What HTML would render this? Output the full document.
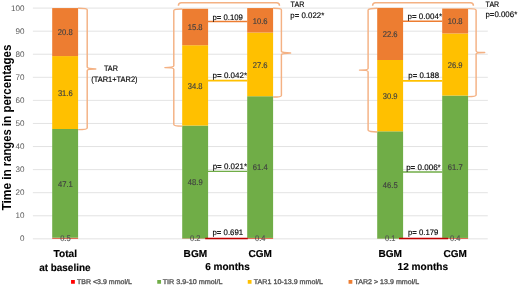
<!DOCTYPE html>
<html lang="en"><head><meta charset="utf-8"><title>Time in ranges</title>
<style>
html,body{margin:0;padding:0;background:#fff;}
body{width:520px;height:287px;overflow:hidden;}
svg{display:block;}
text{font-family:"Liberation Sans",sans-serif;}
.tick text{font-size:8.1px;}
.val text{font-size:8.3px;stroke:#404040;stroke-width:0.15px;}
.p,.p text{font-size:8.0px;fill:#000;stroke:#000;stroke-width:0.14px;}
.cat text{font-size:10.1px;font-weight:bold;fill:#000;stroke:#000;stroke-width:0.15px;}
.ytitle{font-size:11.9px;font-weight:bold;fill:#000;}
.leg text{font-size:6.8px;font-weight:normal;stroke:#595959;stroke-width:0.35px;}
</style></head><body>
<svg width="520" height="287" viewBox="0 0 520 287">
<rect width="520" height="287" fill="#fff"/>
<g stroke="#D9D9D9" stroke-width="0.75">
<line x1="32.9" x2="487.8" y1="238.85" y2="238.85"/>
<line x1="32.9" x2="487.8" y1="215.77" y2="215.77"/>
<line x1="32.9" x2="487.8" y1="192.70" y2="192.70"/>
<line x1="32.9" x2="487.8" y1="169.62" y2="169.62"/>
<line x1="32.9" x2="487.8" y1="146.54" y2="146.54"/>
<line x1="32.9" x2="487.8" y1="123.46" y2="123.46"/>
<line x1="32.9" x2="487.8" y1="100.39" y2="100.39"/>
<line x1="32.9" x2="487.8" y1="77.31" y2="77.31"/>
<line x1="32.9" x2="487.8" y1="54.23" y2="54.23"/>
<line x1="32.9" x2="487.8" y1="31.16" y2="31.16"/>
<line x1="32.9" x2="487.8" y1="8.08" y2="8.08"/>
</g>
<g class="tick" fill="#595959" text-anchor="end" transform="skewX(0.05)">
<text x="24.4" y="241.45">0</text>
<text x="24.4" y="218.37">10</text>
<text x="24.4" y="195.30">20</text>
<text x="24.4" y="172.22">30</text>
<text x="24.4" y="149.14">40</text>
<text x="24.4" y="126.06">50</text>
<text x="24.4" y="102.99">60</text>
<text x="24.4" y="79.91">70</text>
<text x="24.4" y="56.83">80</text>
<text x="24.4" y="33.76">90</text>
<text x="24.4" y="10.68">100</text>
</g>
<rect x="52.2" y="237.70" width="25.9" height="1.15" fill="#DD5A3C"/>
<rect x="52.2" y="129.00" width="25.9" height="108.69" fill="#70AD47"/>
<rect x="52.2" y="56.08" width="25.9" height="72.92" fill="#FFC000"/>
<rect x="52.2" y="8.08" width="25.9" height="48.00" fill="#ED7D31"/>
<rect x="182.2" y="238.39" width="25.9" height="0.46" fill="#DD5A3C"/>
<rect x="182.2" y="125.54" width="25.9" height="112.85" fill="#70AD47"/>
<rect x="182.2" y="45.23" width="25.9" height="80.31" fill="#FFC000"/>
<rect x="182.2" y="8.77" width="25.9" height="36.46" fill="#ED7D31"/>
<rect x="247.2" y="237.93" width="25.9" height="0.92" fill="#DD5A3C"/>
<rect x="247.2" y="96.23" width="25.9" height="141.69" fill="#70AD47"/>
<rect x="247.2" y="32.54" width="25.9" height="63.69" fill="#FFC000"/>
<rect x="247.2" y="8.08" width="25.9" height="24.46" fill="#ED7D31"/>
<rect x="377.2" y="238.62" width="25.9" height="0.23" fill="#DD5A3C"/>
<rect x="377.2" y="131.31" width="25.9" height="107.31" fill="#70AD47"/>
<rect x="377.2" y="60.00" width="25.9" height="71.31" fill="#FFC000"/>
<rect x="377.2" y="7.85" width="25.9" height="52.15" fill="#ED7D31"/>
<rect x="442.2" y="237.93" width="25.9" height="0.92" fill="#DD5A3C"/>
<rect x="442.2" y="95.54" width="25.9" height="142.39" fill="#70AD47"/>
<rect x="442.2" y="33.46" width="25.9" height="62.08" fill="#FFC000"/>
<rect x="442.2" y="8.54" width="25.9" height="24.92" fill="#ED7D31"/>
<g class="val" fill="#404040" text-anchor="middle" transform="skewX(0.05)">
<text x="65.2" y="241.25" fill="#595959" textLength="10.4" lengthAdjust="spacingAndGlyphs">0.5</text>
<text x="65.2" y="186.60" textLength="14.8" lengthAdjust="spacingAndGlyphs">47.1</text>
<text x="65.2" y="95.79" textLength="14.8" lengthAdjust="spacingAndGlyphs">31.6</text>
<text x="65.2" y="35.33" textLength="14.8" lengthAdjust="spacingAndGlyphs">20.8</text>
<text x="195.1" y="241.25" fill="#595959" textLength="10.4" lengthAdjust="spacingAndGlyphs">0.2</text>
<text x="195.1" y="185.22" textLength="14.8" lengthAdjust="spacingAndGlyphs">48.9</text>
<text x="195.1" y="88.64" textLength="14.8" lengthAdjust="spacingAndGlyphs">34.8</text>
<text x="195.1" y="30.25" textLength="14.8" lengthAdjust="spacingAndGlyphs">15.8</text>
<text x="260.1" y="241.25" fill="#595959" textLength="10.4" lengthAdjust="spacingAndGlyphs">0.4</text>
<text x="260.1" y="170.33" textLength="14.8" lengthAdjust="spacingAndGlyphs">61.4</text>
<text x="260.1" y="67.64" textLength="14.8" lengthAdjust="spacingAndGlyphs">27.6</text>
<text x="260.1" y="23.56" textLength="14.8" lengthAdjust="spacingAndGlyphs">10.6</text>
<text x="390.1" y="241.25" fill="#595959" textLength="10.4" lengthAdjust="spacingAndGlyphs">0.1</text>
<text x="390.1" y="188.22" textLength="14.8" lengthAdjust="spacingAndGlyphs">46.5</text>
<text x="390.1" y="98.91" textLength="14.8" lengthAdjust="spacingAndGlyphs">30.9</text>
<text x="390.1" y="37.18" textLength="14.8" lengthAdjust="spacingAndGlyphs">22.6</text>
<text x="455.1" y="241.25" fill="#595959" textLength="10.4" lengthAdjust="spacingAndGlyphs">0.4</text>
<text x="455.1" y="169.98" textLength="14.8" lengthAdjust="spacingAndGlyphs">61.7</text>
<text x="455.1" y="67.75" textLength="14.8" lengthAdjust="spacingAndGlyphs">26.9</text>
<text x="455.1" y="24.25" textLength="14.8" lengthAdjust="spacingAndGlyphs">10.8</text>
</g>
<line x1="208" x2="247.3" y1="21.4" y2="21.4" stroke="#ED7D31" stroke-width="1.5"/>
<text class="p" transform="skewX(0.05)" x="212.4" y="19.6" textLength="30.5" lengthAdjust="spacingAndGlyphs">p= 0.109</text>
<line x1="208" x2="247.3" y1="80.6" y2="80.6" stroke="#FFC000" stroke-width="1.6"/>
<text class="p" transform="skewX(0.05)" x="212.5" y="78.5" textLength="34.5" lengthAdjust="spacingAndGlyphs">p= 0.042*</text>
<line x1="208" x2="247.3" y1="171.4" y2="171.4" stroke="#70AD47" stroke-width="1.4"/>
<text class="p" transform="skewX(0.05)" x="212.5" y="169.2" textLength="34.4" lengthAdjust="spacingAndGlyphs">p= 0.021*</text>
<line x1="205.2" x2="247.8" y1="238.4" y2="238.4" stroke="#C00000" stroke-width="1.5"/>
<text class="p" transform="skewX(0.05)" x="212.3" y="234.6" textLength="30.6" lengthAdjust="spacingAndGlyphs">p= 0.691</text>
<line x1="403" x2="442.3" y1="21.2" y2="21.2" stroke="#ED7D31" stroke-width="1.5"/>
<text class="p" transform="skewX(0.05)" x="407.5" y="18.9" textLength="34.5" lengthAdjust="spacingAndGlyphs">p= 0.004*</text>
<line x1="403" x2="442.3" y1="80.9" y2="80.9" stroke="#FFC000" stroke-width="1.6"/>
<text class="p" transform="skewX(0.05)" x="408.3" y="77.7" textLength="30.7" lengthAdjust="spacingAndGlyphs">p= 0.188</text>
<line x1="403" x2="442.3" y1="172.0" y2="172.0" stroke="#70AD47" stroke-width="1.4"/>
<text class="p" transform="skewX(0.05)" x="406.0" y="169.7" textLength="34.6" lengthAdjust="spacingAndGlyphs">p= 0.006*</text>
<line x1="399.0" x2="448.0" y1="238.4" y2="238.4" stroke="#C00000" stroke-width="1.5"/>
<text class="p" transform="skewX(0.05)" x="407.7" y="234.6" textLength="30.5" lengthAdjust="spacingAndGlyphs">p= 0.179</text>
<path d="M78.1,8.2 A9.10,1.6 0 0 1 87.2,9.80 V67.30 A8.60,1.6 0 0 0 95.8,68.9 A8.60,1.6 0 0 0 87.2,70.50 V128.00 A9.10,1.6 0 0 1 78.1,129.6" fill="none" stroke="#F4B183" stroke-width="1.45" stroke-linejoin="round"/>
<path d="M182.2,8.9 A8.40,1.6 0 0 0 173.8,10.50 V66.00 A8.90,1.6 0 0 1 164.9,67.6 A8.90,1.6 0 0 1 173.8,69.20 V124.50 A8.40,1.6 0 0 0 182.2,126.1" fill="none" stroke="#F4B183" stroke-width="1.45" stroke-linejoin="round"/>
<path d="M273.1,8.2 A8.30,1.6 0 0 1 281.4,9.80 V51.40 A9.20,1.6 0 0 0 290.6,53.0 A9.20,1.6 0 0 0 281.4,54.60 V95.40 A8.30,1.6 0 0 1 273.1,97.0" fill="none" stroke="#F4B183" stroke-width="1.45" stroke-linejoin="round"/>
<path d="M377.2,8.3 A9.10,1.6 0 0 0 368.1,9.90 V68.50 A8.60,1.6 0 0 1 359.5,70.1 A8.60,1.6 0 0 1 368.1,71.70 V130.30 A9.10,1.6 0 0 0 377.2,131.9" fill="none" stroke="#F4B183" stroke-width="1.45" stroke-linejoin="round"/>
<path d="M468.1,8.6 A8.00,1.6 0 0 1 476.1,10.20 V50.90 A8.60,1.6 0 0 0 484.7,52.5 A8.60,1.6 0 0 0 476.1,54.10 V95.00 A8.00,1.6 0 0 1 468.1,96.6" fill="none" stroke="#F4B183" stroke-width="1.45" stroke-linejoin="round"/>
<path d="M178.4,5.8 V5.8 Q178.4,2.8 181.4,2.8 H276.5 Q279.5,2.8 279.5,5.8" fill="none" stroke="#F4B183" stroke-width="1.45"/>
<path d="M372.6,5.8 V5.8 Q372.6,2.8 375.6,2.8 H470.4 Q473.4,2.8 473.4,5.8" fill="none" stroke="#F4B183" stroke-width="1.45"/>
<g class="p" transform="skewX(0.05)">
<text x="103.9" y="71.1" textLength="14.0" lengthAdjust="spacingAndGlyphs">TAR</text>
<text x="91.1" y="81.7" textLength="46.4" lengthAdjust="spacingAndGlyphs">(TAR1+TAR2)</text>
<text x="290.6" y="6.7" textLength="13.8" lengthAdjust="spacingAndGlyphs">TAR</text>
<text x="290.3" y="17.6" textLength="33.9" lengthAdjust="spacingAndGlyphs">p= 0.022*</text>
<text x="485.6" y="6.7" textLength="13.6" lengthAdjust="spacingAndGlyphs">TAR</text>
<text x="485.4" y="17.5" textLength="31.8" lengthAdjust="spacingAndGlyphs">p=0.006*</text>
</g>
<g class="cat" text-anchor="middle" transform="skewX(0.05)">
<text x="65.1" y="257.0" textLength="23.5" lengthAdjust="spacingAndGlyphs">Total</text>
<text x="64.6" y="271.2" textLength="51.4" lengthAdjust="spacingAndGlyphs">at baseline</text>
<text x="195.2" y="257.0" textLength="23.6" lengthAdjust="spacingAndGlyphs">BGM</text>
<text x="260.0" y="257.0" textLength="23.4" lengthAdjust="spacingAndGlyphs">CGM</text>
<text x="227.2" y="270.4" textLength="44.6" lengthAdjust="spacingAndGlyphs">6 months</text>
<text x="390.0" y="257.0" textLength="23.6" lengthAdjust="spacingAndGlyphs">BGM</text>
<text x="455.0" y="257.0" textLength="23.4" lengthAdjust="spacingAndGlyphs">CGM</text>
<text x="422.6" y="270.4" textLength="50.6" lengthAdjust="spacingAndGlyphs">12 months</text>
</g>
<text class="ytitle" transform="translate(11,210.6) rotate(-90)"><tspan x="0" textLength="27.8" lengthAdjust="spacingAndGlyphs">Time</tspan> <tspan x="30.8" textLength="10.6" lengthAdjust="spacingAndGlyphs">in</tspan> <tspan x="44.4" textLength="36.9" lengthAdjust="spacingAndGlyphs">ranges</tspan> <tspan x="84.3" textLength="10.6" lengthAdjust="spacingAndGlyphs">in</tspan> <tspan x="98.0" textLength="67.9" lengthAdjust="spacingAndGlyphs">percentages</tspan></text>
<g class="leg" fill="#595959" transform="skewX(0.05)">
<rect x="70.8" y="279.9" width="3.8" height="3.8" fill="#FF0000"/>
<text x="76.7" y="284.0" textLength="54.9" lengthAdjust="spacingAndGlyphs">TBR &lt;3.9 mmol/L</text>
<rect x="157.0" y="279.9" width="3.8" height="3.8" fill="#70AD47"/>
<text x="162.4" y="284.0" textLength="59.8" lengthAdjust="spacingAndGlyphs">TIR 3.9-10 mmol/L</text>
<rect x="247.5" y="279.9" width="3.8" height="3.8" fill="#FFC000"/>
<text x="253.5" y="284.0" textLength="69.2" lengthAdjust="spacingAndGlyphs">TAR1 10-13.9 mmol/L</text>
<rect x="348.3" y="279.9" width="3.8" height="3.8" fill="#ED7D31"/>
<text x="354.2" y="284.0" textLength="64.7" lengthAdjust="spacingAndGlyphs">TAR2 &gt; 13.9 mmol/L</text>
</g>
</svg>
</body></html>
